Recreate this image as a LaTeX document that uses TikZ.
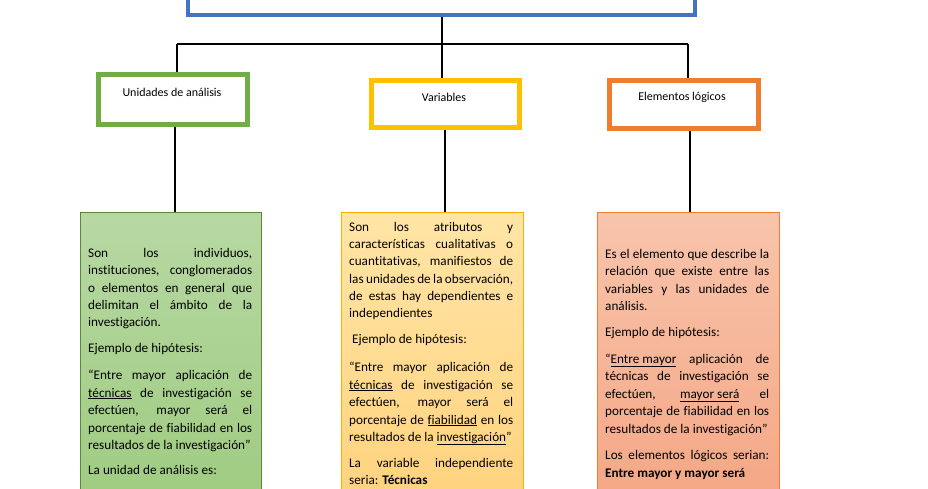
\documentclass[tikz,border=0pt]{standalone}
\usepackage{fontspec}
\setmainfont{Carlito}[Ligatures=CommonOff]
\definecolor{blu}{HTML}{4472C4}
\definecolor{grn}{HTML}{70AD47}
\definecolor{ylw}{HTML}{FFC000}
\definecolor{org}{HTML}{ED7D31}
\newcommand{\Jst}[1]{\makebox[164pt][s]{#1}}
\newcommand{\Lft}[1]{\makebox[164pt][l]{#1}}
\begin{document}
\begin{tikzpicture}[x=1pt,y=-1pt,
 hbox/.style={line width=5pt,fill=white},
 tbox/.style={draw,line width=0.6pt},
 ln/.style={line width=1.3pt,black},
 t/.style={anchor=base west,inner sep=0pt,font=\fontsize{13.2}{16}\selectfont},
 lab/.style={font=\fontsize{12}{14}\selectfont,inner sep=0pt}]
\useasboundingbox (0,0) rectangle (928,488);
\fill[white] (0,0) rectangle (928,488);
% top box
\draw[draw=blu,line width=4pt] (188,-10) rectangle (695,15);
\coordinate (ts) at (442,17);
\coordinate (tj) at (442,44);
\coordinate (hl) at (177,44);
\coordinate (hr) at (688,44);
\draw[ln] (ts) -- (tj);
\draw[ln] (hl) -- (hr);
% header boxes
\draw[hbox,draw=grn] (98,74) rectangle (247,124);
\node[lab] (b1) at (172,92) {Unidades de análisis};
\draw[hbox,draw=ylw] (371,80) rectangle (519,127);
\node[lab] (b2) at (444,97) {Variables};
\draw[hbox,draw=org] (609,80) rectangle (758,128);
\node[lab] (b3) at (682,97) {Elementos lógicos};
\draw[ln] (hl) -- (177,71.5);
\draw[ln] (442,44) -- (442,77.5);
\draw[ln] (hr) -- (688,77.5);
% text boxes
\draw[tbox,draw=grn!80!black,top color={rgb,255:red,183;green,216;blue,163}, bottom color={rgb,255:red,160;green,204;blue,130}] (80,212) rectangle (261,492);
\draw[tbox,draw=ylw!70!orange,top color={rgb,255:red,255;green,229;blue,166}, bottom color={rgb,255:red,255;green,211;blue,127}] (341,212) rectangle (523,492);
\draw[tbox,draw=org,top color={rgb,255:red,248;green,196;blue,172}, bottom color={rgb,255:red,244;green,168;blue,134}] (597,212) rectangle (779,492);
\draw[ln] (175,127) -- (175,212);
\draw[ln] (445,130) -- (445,212);
\draw[ln] (690,131) -- (690,212);
\begin{scope}[every node/.style={t}]
\node at (88,257) {\Jst{Son los individuos,}};
\node at (88,274) {\Jst{instituciones, conglomerados}};
\node at (88,292) {\Jst{o elementos en general que}};
\node at (88,309) {\Jst{delimitan el ámbito de la}};
\node at (88,326) {\Lft{investigación.}};
\node at (88,352) {\Lft{Ejemplo de hipótesis:}};
\node at (88,379) {\Jst{“Entre mayor aplicación de}};
\node at (88,397) {\Jst{\underline{técnicas} de investigación se}};
\node at (88,414) {\Jst{efectúen, mayor será el}};
\node at (88,432) {\Jst{porcentaje de fiabilidad en los}};
\node at (88,449) {\Lft{resultados de la investigación”}};
\node at (88,474) {\Lft{La unidad de análisis es:}};
\node at (349,231) {\Jst{Son los atributos y}};
\node at (349,248) {\Jst{características cualitativas o}};
\node at (349,265) {\Jst{cuantitativas, manifiestos de}};
\node at (349,283) {\Jst{las unidades de la observación,}};
\node at (349,300) {\Jst{de estas hay dependientes e}};
\node at (349,317) {\Lft{independientes}};
\node at (349,343) {\Lft{\ Ejemplo de hipótesis:}};
\node at (349,371) {\Jst{“Entre mayor aplicación de}};
\node at (349,389) {\Jst{\underline{técnicas} de investigación se}};
\node at (349,406) {\Jst{efectúen, mayor será el}};
\node at (349,424) {\Jst{porcentaje de \underline{fiabilidad} en los}};
\node at (349,441) {\Lft{resultados de la \underline{investigación}”}};
\node at (349,467) {\Jst{La variable independiente}};
\node at (349,484) {\Lft{seria: \textbf{Técnicas}}};
\node at (605,258) {\Jst{Es el elemento que describe la}};
\node at (605,275) {\Jst{relación que existe entre las}};
\node at (605,293) {\Jst{variables y las unidades de}};
\node at (605,310) {\Lft{análisis.}};
\node at (605,336) {\Lft{Ejemplo de hipótesis:}};
\node at (605,363) {\Jst{“\underline{Entre mayor} aplicación de}};
\node at (605,380) {\Jst{técnicas de investigación se}};
\node at (605,398) {\Jst{efectúen, \underline{mayor será} el}};
\node at (605,415) {\Jst{porcentaje de fiabilidad en los}};
\node at (605,433) {\Lft{resultados de la investigación”}};
\node at (605,459) {\Jst{Los elementos lógicos serian:}};
\node at (605,477) {\Lft{\textbf{Entre mayor y mayor será}}};
\end{scope}
\end{tikzpicture}
\end{document}
